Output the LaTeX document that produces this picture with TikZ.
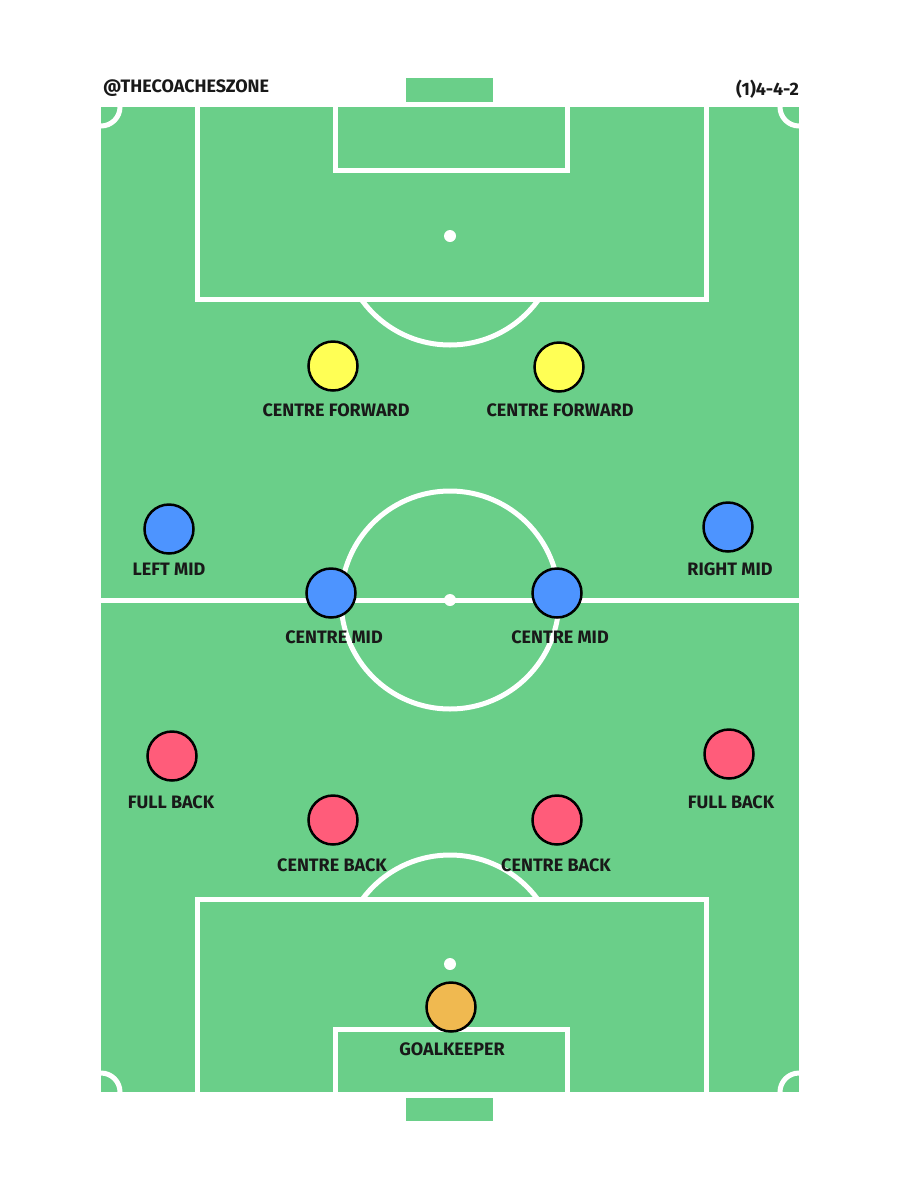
\documentclass[tikz,border=0pt]{standalone}
\usepackage{fontspec}
\setmainfont{Fira Sans}[UprightFont=* SemiBold, BoldFont=* Bold]
\definecolor{pitch}{RGB}{106,207,137}
\definecolor{pyellow}{RGB}{255,255,85}
\definecolor{pblue}{RGB}{77,148,255}
\definecolor{pred}{RGB}{255,92,122}
\definecolor{porange}{RGB}{240,185,80}
\tikzset{
  wline/.style={draw=white,line width=5pt},
  player/.style={circle,draw=black,line width=2.5pt,minimum size=49pt,inner sep=0pt},
  lbl/.style={font=\fontsize{18}{18}\selectfont\bfseries,text=black!90,inner sep=0pt,anchor=center},
  spot/.style={circle,fill=white,minimum size=12pt,inner sep=0pt}
}
\begin{document}
\begin{tikzpicture}[x=1pt,y=-1pt]
\useasboundingbox (0,0) rectangle (900,1200);
\fill[white] (0,0) rectangle (900,1200);
% goals
\fill[pitch] (406,78) rectangle (493,102);
\fill[pitch] (406,1098) rectangle (493,1121);
% pitch
\begin{scope}
\clip (101,107) rectangle (799,1092);
\fill[pitch] (101,107) rectangle (799,1092);
% corners
\draw[wline] (101,107) circle (19);
\draw[wline] (799,107) circle (19);
\draw[wline] (101,1092) circle (19);
\draw[wline] (799,1092) circle (19);
% top penalty area
\draw[wline] (197,100) -- (197,299) -- (706,299) -- (706,100);
\draw[wline] (335,100) -- (335,170) -- (567,170) -- (567,100);
\begin{scope}
\clip (0,299) rectangle (900,400);
\draw[wline] (450,236) circle (109);
\end{scope}
% bottom penalty area
\draw[wline] (197,1100) -- (197,899) -- (706,899) -- (706,1100);
\draw[wline] (335,1100) -- (335,1029) -- (567,1029) -- (567,1100);
\begin{scope}
\clip (0,800) rectangle (900,899);
\draw[wline] (450,964) circle (109);
\end{scope}
% halfway
\draw[wline] (90,600) -- (810,600);
\draw[wline] (450,600) circle (109);
\end{scope}
\node[spot] (ts) at (450,236) {};
\node[spot] (cs) at (450,600) {};
\node[spot] (bs) at (450,964) {};
% header
\node[lbl,anchor=west] (brand) at (103,88) {@THECOACHESZONE};
\node[lbl,anchor=east] (form) at (799,89) {(1)4-4-2};
% players
\node[player,fill=pyellow] (cf1) at (333,366) {};
\node[player,fill=pyellow] (cf2) at (559,367) {};
\node[lbl] (cf1l) at (336,410) {CENTRE FORWARD};
\node[lbl] (cf2l) at (560,410) {CENTRE FORWARD};
\node[player,fill=pblue] (lm) at (169,529) {};
\node[player,fill=pblue] (rm) at (728,527) {};
\node[lbl] (lml) at (169,569) {LEFT MID};
\node[lbl] (rml) at (730,569) {RIGHT MID};
\node[player,fill=pblue] (cm1) at (331,593) {};
\node[player,fill=pblue] (cm2) at (557,593) {};
\node[lbl] (cm1l) at (334,637) {CENTRE MID};
\node[lbl] (cm2l) at (560,637) {CENTRE MID};
\node[player,fill=pred] (fb1) at (172,756) {};
\node[player,fill=pred] (fb2) at (729,754) {};
\node[lbl] (fb1l) at (171,802) {FULL BACK};
\node[lbl] (fb2l) at (731,802) {FULL BACK};
\node[player,fill=pred] (cb1) at (333,820) {};
\node[player,fill=pred] (cb2) at (557,820) {};
\node[lbl] (cb1l) at (332,865) {CENTRE BACK};
\node[lbl] (cb2l) at (556,865) {CENTRE BACK};
\node[player,fill=porange] (gk) at (451,1007) {};
\node[lbl] (gkl) at (452,1049) {GOALKEEPER};
\end{tikzpicture}
\end{document}
